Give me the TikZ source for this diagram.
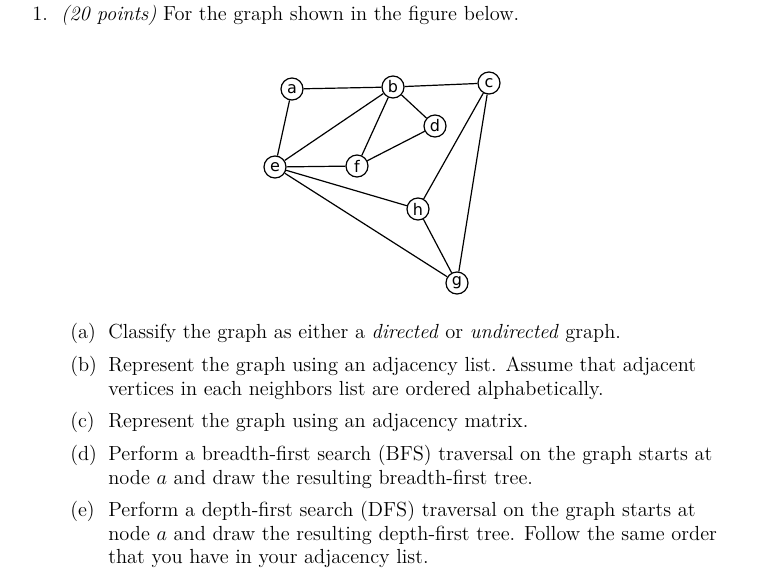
\documentclass[tikz,border=0pt]{standalone}
\usepackage{fontspec}
\newfontfamily\gsans{DejaVu Sans}
\begin{document}
\begin{tikzpicture}[x=1pt,y=-1pt,
  vx/.style={circle,draw,line width=1.2pt,minimum size=22pt,inner sep=0pt,font=\gsans\fontsize{16}{16}\selectfont},
  ed/.style={line width=1.2pt},
  txt/.style={anchor=base west,inner sep=0pt,scale=1.7,font=\fontsize{12}{14}\selectfont}]
\useasboundingbox (0,0) rectangle (777,587);
\node[vx] (a) at (292,89) {a};
\node[vx] (b) at (393,87) {b};
\node[vx] (c) at (489,83) {c};
\node[vx] (d) at (435,126) {d};
\node[vx] (e) at (275,167) {e};
\node[vx] (f) at (357,166) {f};
\node[vx] (h) at (418,209) {h};
\node[vx] (g) at (457,283) {g};
\foreach \u/\v in {a/b,b/c,a/e,b/e,b/f,b/d,d/f,e/f,e/h,e/g,h/g,c/h,c/g}
  \draw[ed] (\u) -- (\v);
\node[txt] (t0) at (32,20) {1.\ \ \textit{(20 points)} For the graph shown in the figure below.};
\node[txt] (la) at (70,338) {(a)};
\node[txt] (ta) at (108,338) {Classify the graph as either a \textit{directed} or \textit{undirected} graph.};
\node[txt] (lb) at (70,371) {(b)};
\node[txt] (tb1) at (108,371) {Represent the graph using an adjacency list. Assume that adjacent};
\node[txt] (tb2) at (108,395) {vertices in each neighbors list are ordered alphabetically.};
\node[txt] (lc) at (70,427) {(c)};
\node[txt] (tc) at (108,427) {Represent the graph using an adjacency matrix.};
\node[txt] (ld) at (70,460) {(d)};
\node[txt] (td1) at (108,460) {Perform a breadth-first search (BFS) traversal on the graph starts at};
\node[txt] (td2) at (108,484) {node $a$ and draw the resulting breadth-first tree.};
\node[txt] (le) at (70,516) {(e)};
\node[txt] (te1) at (108,516) {Perform a depth-first search (DFS) traversal on the graph starts at};
\node[txt] (te2) at (108,540) {node $a$ and draw the resulting depth-first tree. Follow the same order};
\node[txt] (te3) at (108,563) {that you have in your adjacency list.};
\end{tikzpicture}
\end{document}
